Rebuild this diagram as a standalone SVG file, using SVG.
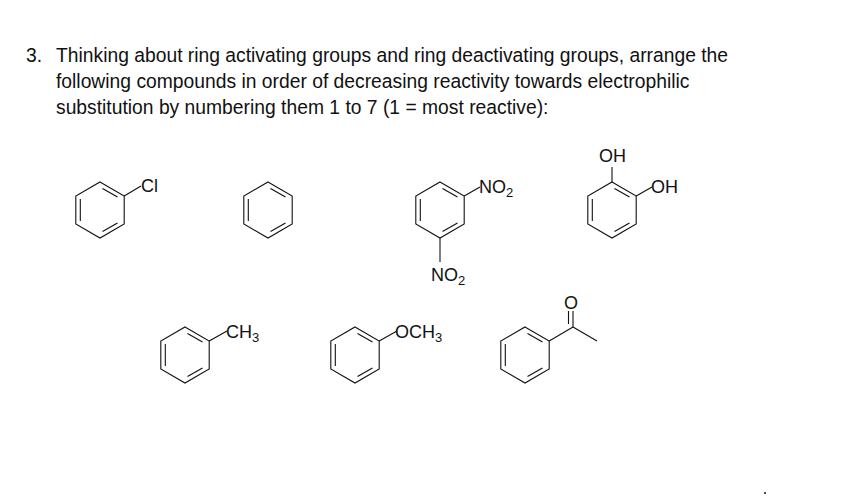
<svg xmlns="http://www.w3.org/2000/svg" xmlns:xlink="http://www.w3.org/1999/xlink" width="850" height="497" viewBox="0 0 850 497">
<style>
text{font-family:"Liberation Sans",Arial,sans-serif;fill:#111}
.q{font-size:19.3px}
.l{font-size:18px}
.s{font-size:13px}
line,path{stroke:#111;stroke-width:1.1;fill:none}
</style>
<defs>
<g id="ring">
<path d="M0,-28 L24.2,-14 L24.2,14 L0,28 L-24.2,14 L-24.2,-14 Z"/>
<line x1="-19.7" y1="-11" x2="-19.7" y2="11"/>
<line x1="2.5" y1="-21.6" x2="17.5" y2="-12.9"/>
<line x1="17.5" y1="12.9" x2="2.5" y2="21.6"/>
</g>
</defs>
<rect width="850" height="497" fill="#fff"/>
<g id="question">
<text class="q" x="26" y="62">3.</text>
<text class="q" x="56" y="62">Thinking about ring activating groups and ring deactivating groups, arrange the</text>
<text class="q" x="56" y="88">following compounds in order of decreasing reactivity towards electrophilic</text>
<text class="q" x="56" y="114">substitution by numbering them 1 to 7 (1 = most reactive):</text>
</g>
<g id="chlorobenzene">
<use xlink:href="#ring" x="100" y="210"/>
<line x1="124.2" y1="196" x2="141" y2="186"/>
<text class="l" x="141" y="192">Cl</text>
</g>
<g id="benzene">
<use xlink:href="#ring" x="268" y="210"/>
</g>
<g id="dinitrobenzene">
<use xlink:href="#ring" x="440" y="210"/>
<line x1="464.2" y1="196" x2="480" y2="187"/>
<text class="l" x="479" y="193">NO<tspan class="s" dy="4">2</tspan></text>
<line x1="440" y1="238" x2="440" y2="262"/>
<text class="l" x="431" y="281">NO<tspan class="s" dy="4">2</tspan></text>
</g>
<g id="catechol">
<use xlink:href="#ring" x="612" y="210"/>
<line x1="612" y1="182" x2="612" y2="167"/>
<text class="l" x="599" y="162">OH</text>
<line x1="636.2" y1="196" x2="652" y2="187"/>
<text class="l" x="651" y="193">OH</text>
</g>
<g id="toluene">
<use xlink:href="#ring" x="185" y="355"/>
<line x1="209.2" y1="341" x2="227" y2="331"/>
<text class="l" x="226" y="338">CH<tspan class="s" dy="4">3</tspan></text>
</g>
<g id="anisole">
<use xlink:href="#ring" x="355" y="355"/>
<line x1="379.2" y1="341" x2="397" y2="331"/>
<text class="l" x="395" y="338">OCH<tspan class="s" dy="4">3</tspan></text>
</g>
<g id="acetophenone">
<use xlink:href="#ring" x="525" y="355"/>
<line x1="549.2" y1="341" x2="573" y2="327"/>
<line x1="573" y1="327" x2="597" y2="341"/>
<line x1="573" y1="327" x2="573" y2="311"/>
<line x1="568.5" y1="324" x2="568.5" y2="311"/>
<text class="l" x="564" y="309">O</text>
</g>
<circle cx="765" cy="493" r="1" fill="#111"/>
</svg>
